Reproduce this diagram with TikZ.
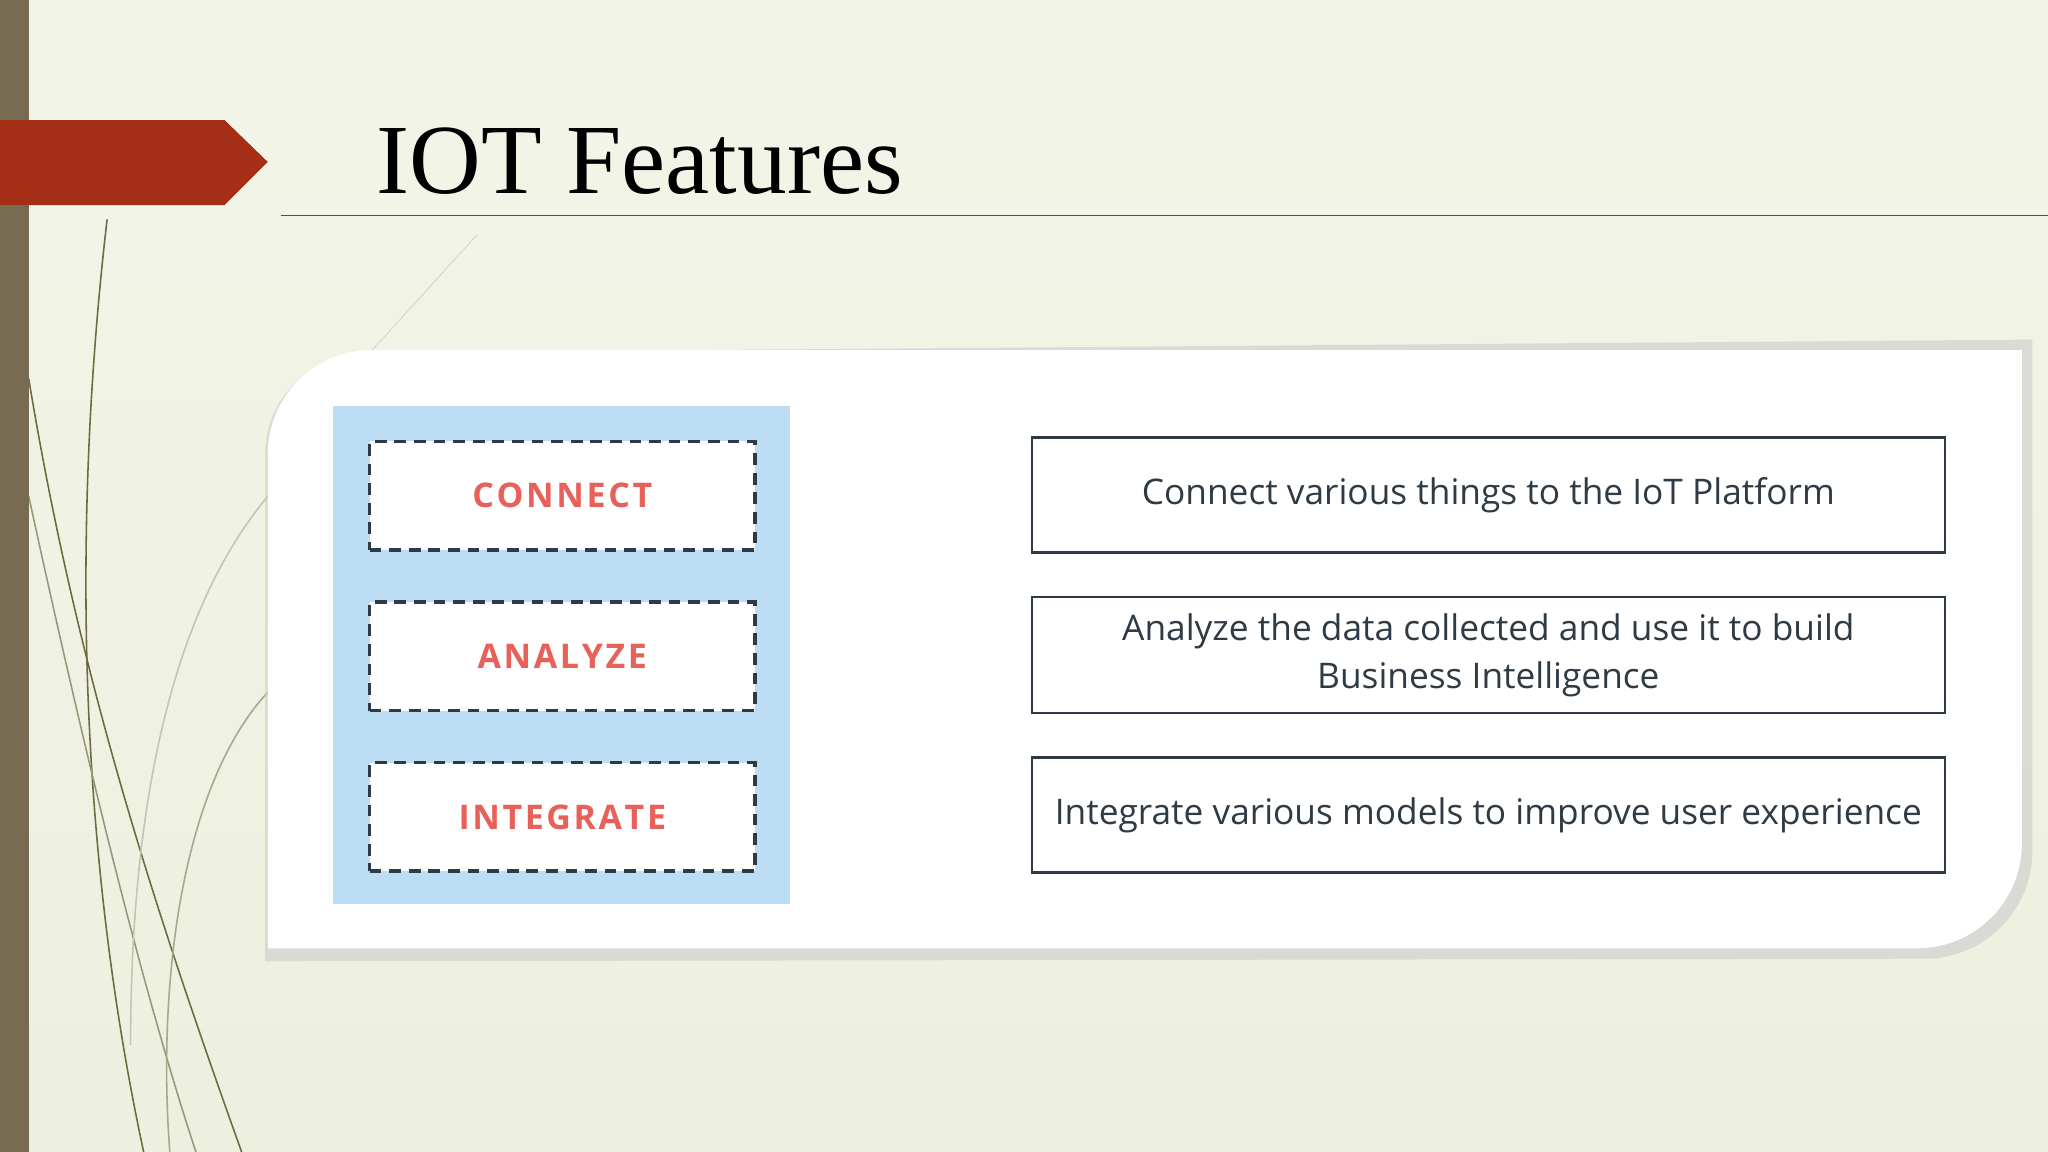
\documentclass[tikz,border=0pt]{standalone}
\usepackage{fontspec}
\newfontfamily\osans{Open Sans}
\newfontfamily\titlef{Liberation Serif}
\definecolor{bgc}{HTML}{EDF0DE}
\definecolor{barc}{HTML}{776B52}
\definecolor{redc}{HTML}{A52F16}
\definecolor{bluec}{HTML}{BDDDF5}
\definecolor{labc}{HTML}{E8605A}
\definecolor{txtc}{HTML}{2E3A45}
\definecolor{curvec}{HTML}{6E6A40}
\tikzset{x=1pt,y=-1pt,
 dbox/.style={draw=txtc,line width=2.6pt,dash pattern=on 9pt off 6pt,fill=white},
 rbox/.style={draw=txtc,line width=1.8pt,fill=white},
 lab/.style={text=labc,font=\osans\bfseries\fontsize{26}{30}\selectfont},
 desc/.style={text=txtc,font=\osans\fontsize{27}{37}\selectfont,align=center},
 deco/.style={draw=curvec,line width=1.2pt}}
\newcommand{\ls}{\kern2pt}
\begin{document}
\begin{tikzpicture}
\path[use as bounding box,top color=bgc!70!white,bottom color=bgc,middle color=bgc!85!white] (0,0) rectangle (1568,882);
% decorative curves
\draw[deco] (82,168) .. controls (55,400) and (60,650) .. (110,882);
\draw[deco] (22,290) .. controls (60,520) and (120,700) .. (185,882);
\draw[deco,draw=curvec!70] (22,380) .. controls (70,600) and (110,760) .. (150,882);
\draw[deco,draw=curvec!60] (205,530) .. controls (140,600) and (120,750) .. (130,882);
\draw[deco,draw=curvec!40] (205,380) .. controls (130,470) and (100,620) .. (100,800);
\draw[deco,draw=curvec!30,line width=0.6pt] (365,180) -- (285,268);
\fill[barc] (0,0) rectangle (22,882);
\fill[redc] (0,92) -- (172,92) -- (205,124) -- (172,157) -- (0,157) -- cycle;
\node[anchor=base west,inner sep=0,font=\titlef\fontsize{76}{80}\selectfont,text=black] (title) at (288,148) {IOT Features};
\draw[redc,line width=1pt] (215,165) -- (1568,165);
% panel
\fill[black!20,opacity=0.6] (203,736) -- (203,348) .. controls (203,303) and (240,270) .. (285,270) -- (1556,260) -- (1556,652) .. controls (1556,697) and (1519,734) .. (1474,734) -- cycle;
\fill[white] (205,726) -- (205,348) .. controls (205,304) and (240,268) .. (285,268) -- (1548,268) -- (1548,646) .. controls (1548,690) and (1512,726) .. (1468,726) -- cycle;
\fill[bluec] (255,311) rectangle (605,692);
\node[dbox,minimum width=295pt,minimum height=83pt] (c) at (430.5,379.5) {};
\node[lab] at (c) {C\ls O\ls N\ls N\ls E\ls C\ls T};
\node[dbox,minimum width=295pt,minimum height=83pt] (a) at (430.5,502.5) {};
\node[lab] at (a) {A\ls N\ls A\ls L\ls Y\ls Z\ls E};
\node[dbox,minimum width=295pt,minimum height=83pt] (i) at (430.5,625.5) {};
\node[lab] at (i) {I\ls N\ls T\ls E\ls G\ls R\ls A\ls T\ls E};
\node[rbox,minimum width=699pt,minimum height=88pt] (r1) at (1139.5,379) {};
\node[desc] at (r1) {Connect various things to the IoT Platform};
\node[rbox,minimum width=699pt,minimum height=89pt] (r2) at (1139.5,501.5) {};
\node[desc] at (r2) {Analyze the data collected and use it to build\\Business Intelligence};
\node[rbox,minimum width=699pt,minimum height=88pt] (r3) at (1139.5,624) {};
\node[desc] at (r3) {Integrate various models to improve user experience};
\end{tikzpicture}
\end{document}
